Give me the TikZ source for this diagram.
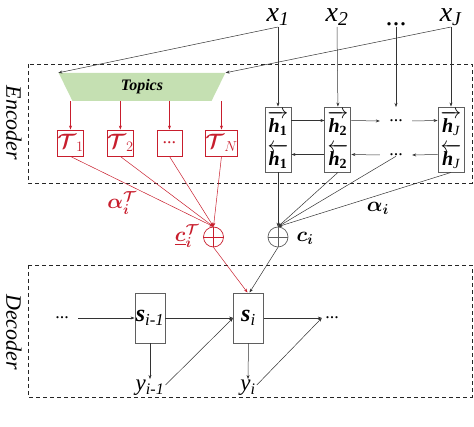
\documentclass[tikz,border=0pt]{standalone}
\usepackage{amsmath,amssymb}
\usepackage{fontspec}
\setmainfont{Liberation Serif}
\usetikzlibrary{arrows.meta, positioning, shapes.geometric, calc}
\definecolor{topicred}{RGB}{200,30,45}
\definecolor{topicgreen}{RGB}{197,224,178}
\definecolor{boxgray}{RGB}{95,95,95}

\begin{document}
\begin{tikzpicture}[x=1pt, y=-1pt,
    frame/.style={line width=0.9pt, dash pattern=on 4pt off 3pt, black!85},
    side/.style={rotate=-90, font=\fontsize{22}{24}\selectfont\itshape},
    xlab/.style={font=\fontsize{28}{30}\selectfont, inner sep=1pt},
    topicshape/.style={trapezium, trapezium left angle=106, trapezium right angle=106,
                trapezium stretches=true, fill=topicgreen, minimum width=167pt, minimum height=28pt,
                inner sep=0pt, font=\fontsize{16}{18}\selectfont\bfseries\itshape},
    tbox/.style={draw=topicred, line width=0.9pt, minimum width=25pt, minimum height=26pt,
                inner sep=0pt, text=topicred, font=\fontsize{21}{22}\selectfont},
    hbox/.style={draw=boxgray, line width=0.9pt, minimum width=26pt, minimum height=65pt,
                inner sep=0pt, align=center, font=\fontsize{20}{33}\selectfont},
    sbox/.style={draw=boxgray, line width=0.9pt, minimum width=30pt, minimum height=50pt,
                inner sep=0pt, font=\fontsize{24}{26}\selectfont},
    dots/.style={font=\fontsize{18}{20}\selectfont, minimum width=32pt, inner sep=0pt},
    ylab/.style={font=\fontsize{23}{25}\selectfont, inner sep=1pt},
    sumnode/.style={circle, draw, line width=0.7pt, minimum size=20pt, inner sep=0pt},
    mlab/.style={font=\fontsize{21}{22}\selectfont},
    arrow/.style={-{Stealth[length=4pt,width=3pt]}, line width=0.5pt, black!80},
    redarrow/.style={arrow, topicred}
]
\useasboundingbox (0,0) rectangle (474,427);

\draw[frame] (28,64) rectangle (472,183);
\draw[frame] (28,265) rectangle (472,397);
\node[side] (enc) at (14,123) {Encoder};
\node[side] (dec) at (14,332) {Decoder};

\node[xlab, anchor=south] (x1) at (278,27) {\textit{x}\textsubscript{\textit{1}}};
\node[xlab, anchor=south] (x2) at (337,27) {\textit{x}\textsubscript{\textit{2}}};
\node[xlab, anchor=south] (xd) at (396,27) {...};
\node[xlab, anchor=south] (xJ) at (451,27) {\textit{x}\textsubscript{\textit{J}}};

\node[topicshape] (topics) at (142,87) {Topics};

\node[tbox] (t1) at (70.5,143) {$\boldsymbol{\mathcal{T}}_{1}$};
\node[tbox, right=22.5pt of t1] (t2) {$\boldsymbol{\mathcal{T}}_{2}$};
\node[tbox, right=22.5pt of t2] (td) {\fontsize{18}{20}\selectfont ...};
\node[tbox, right=22.5pt of td] (tN) {$\boldsymbol{\mathcal{T}}_{N}$};

\node[hbox] (h1) at (278,139.5) {$\overrightarrow{\textbf{\textit{h}}_{\textbf{1}}}$\\$\overleftarrow{\textbf{\textit{h}}_{\textbf{1}}}$};
\node[hbox, right=33pt of h1] (h2) {$\overrightarrow{\textbf{\textit{h}}_{\textbf{2}}}$\\$\overleftarrow{\textbf{\textit{h}}_{\textbf{2}}}$};
\node[hbox] (hJ) at (451,139.5) {$\overrightarrow{\textbf{\textit{h}}_{\textit{J}}}$\\$\overleftarrow{\textbf{\textit{h}}_{\textit{J}}}$};
\node[dots] (hfd) at (396,121) {...};
\node[dots] (hbd) at (396,155) {...};

\node[sumnode, topicred] (ct) at (213.5,237) {};
\node[sumnode, boxgray] (c) at (278,237) {};
\draw[topicred, line width=0.7pt] (ct.north) -- (ct.south) (ct.west) -- (ct.east);
\draw[boxgray, line width=0.7pt] (c.north) -- (c.south) (c.west) -- (c.east);
\node[mlab, text=topicred] (ctlab) at (187,236) {$\underline{\boldsymbol{c}}_{\boldsymbol{i}}^{\boldsymbol{\mathcal{T}}}$};
\node[mlab] (clab) at (305,238) {$\boldsymbol{c}_{\boldsymbol{i}}$};
\node[mlab, text=topicred] (atlab) at (122,203) {$\boldsymbol{\alpha}_{\boldsymbol{i}}^{\boldsymbol{\mathcal{T}}}$};
\node[mlab] (alab) at (378,208) {$\boldsymbol{\alpha}_{\boldsymbol{i}}$};

\node[sbox] (s1) at (150,318) {\textbf{\textit{s}}\textsubscript{\textit{i-1}}};
\node[sbox] (s2) at (248.5,318) {\textbf{\textit{s}}\textsubscript{\textit{i}}};
\node[dots] (dl) at (62,318) {...};
\node[dots, minimum width=20pt] (dr) at (332,318) {...};
\node[ylab] (y1) at (150,388) {\textit{y}\textsubscript{\textit{i-1}}};
\node[ylab] (y2) at (248,388) {\textit{y}\textsubscript{\textit{i}}};

\draw[arrow] (x1.south) -- (topics.top left corner);
\draw[arrow] (xJ.south) -- (topics.top right corner);
\draw[arrow] (x1.south) -- (h1.north);
\draw[arrow] (x2.south) -- (h2.north);
\draw[arrow] (xd.south) -- (396,107);
\draw[arrow] (xJ.south) -- (hJ.north);

\foreach \t in {t1,t2,td,tN}
  \draw[redarrow] (\t.north |- topics.south) -- (\t.north);

\draw[arrow] ([yshift=19pt]h1.east) -- ([yshift=19pt]h2.west);
\draw[arrow] ([yshift=19pt]h2.east) -- (hfd.west);
\draw[arrow] (hfd.east) -- ([yshift=19pt]hJ.west);
\draw[arrow] ([yshift=-15pt]hJ.west) -- (hbd.east);
\draw[arrow] (hbd.west) -- ([yshift=-15pt]h2.east);
\draw[arrow] ([yshift=-15pt]h2.west) -- ([yshift=-15pt]h1.east);

\foreach \t in {t1,t2,td,tN}
  \draw[redarrow] (\t.south) -- (ct.north);
\foreach \h in {h1,h2,hbd,hJ}
  \draw[arrow] (\h.south) -- (c.north);

\draw[redarrow] (ct.south) -- ([xshift=-1pt]s2.north);
\draw[arrow] (c.south) -- ([xshift=1pt]s2.north);

\draw[arrow] (dl.east) -- (s1.west);
\draw[arrow] (s1.east) -- (s2.west);
\draw[arrow] (s2.east) -- (dr.west);
\draw[arrow] (s1.south) -- (y1.north);
\draw[arrow] (s2.south) -- (y2.north);
\draw[arrow] ([yshift=3pt]y1.east) -- (s2.west);
\draw[arrow] ([yshift=3pt]y2.east) -- (dr.west);

\end{tikzpicture}
\end{document}
